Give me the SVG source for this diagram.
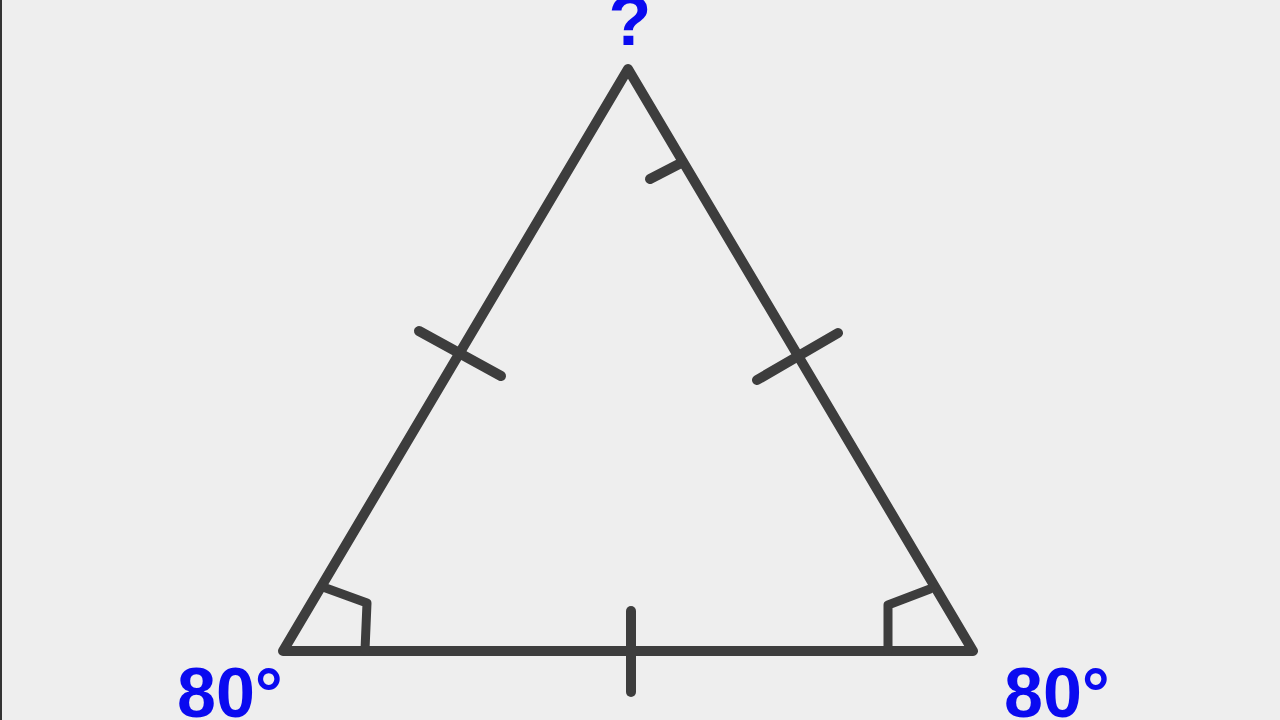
<svg xmlns="http://www.w3.org/2000/svg" width="1280" height="720" viewBox="0 0 1280 720">
<style>
.ln{fill:none;stroke:#3d3d3d;stroke-width:10;stroke-linecap:round;stroke-linejoin:round}
.lbl{font-family:"Liberation Sans",Arial,sans-serif;font-weight:bold;fill:#0a0af0}
</style>
<rect width="1280" height="720" fill="#eeeeee"/>
<rect x="0" y="0" width="2" height="720" fill="#333333"/>
<g id="connectors">
<path class="ln" d="M628,69 L973,651 L283,651 Z"/>
</g>
<g id="ticks">
<path class="ln" d="M419,331 L501,376"/>
<path class="ln" d="M757,380 L838,333"/>
<path class="ln" d="M631,611 L631,692"/>
<path class="ln" d="M650,179 L681,163"/>
</g>
<g id="angle-marks">
<path class="ln" d="M323,587 L367,603 L365,650" style="stroke-width:9"/>
<path class="ln" d="M930,589 L888,605 L888,650" style="stroke-width:9"/>
</g>
<g id="label-top"><text class="lbl" x="630" y="45" font-size="70" text-anchor="middle">?</text></g>
<g id="label-left"><text class="lbl" x="177" y="717" font-size="70">80°</text></g>
<g id="label-right"><text class="lbl" x="1004" y="717" font-size="70">80°</text></g>
</svg>
